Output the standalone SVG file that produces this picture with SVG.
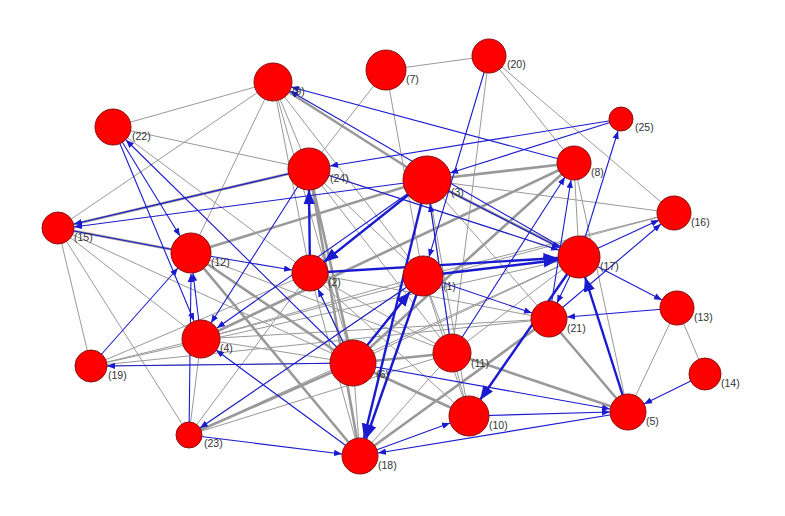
<svg xmlns="http://www.w3.org/2000/svg" width="785" height="516" viewBox="0 0 785 516">
<style>
.g{stroke:#999;stroke-width:1;fill:none}
.t{stroke:#999;stroke-width:2.6;fill:none}
.b{stroke:#1a1ad0;stroke-width:1.1;fill:none;marker-end:url(#a)}
.B{stroke:#1a1ad0;stroke-width:2.4;fill:none;marker-end:url(#A)}
.n circle{fill:#ff0000;stroke:#8a1010;stroke-width:1}
.n text{font-family:"Liberation Sans",Arial,sans-serif;font-size:10.5px;fill:#333}
</style>
<defs>
<marker id="a" viewBox="0 0 10 10" refX="10" refY="5" markerWidth="8" markerHeight="8" markerUnits="userSpaceOnUse" orient="auto"><path d="M0,1L10,5L0,9z" fill="#1a1ad0"/></marker>
<marker id="A" viewBox="0 0 10 10" refX="10" refY="5" markerWidth="6" markerHeight="6" orient="auto"><path d="M0,1L10,5L0,9z" fill="#1a1ad0"/></marker>
</defs>
<rect width="785" height="516" fill="#fff"/>
<g id="connectors">
<path class="g" d="M273,82L113,127M273,82L58,228M273,82L191,253M273,82L309,169M273,82L310,273M273,82L353,363M273,82L423,276M386,70L489,56M386,70L423,276M386,70L309,169M489,56L574,163M489,56L674,213M489,56L452,353M113,127L309,169M113,127L310,273M58,228L201,339M58,228L91,366M58,228L353,363M58,228L189,435M427,180L674,213M427,180L452,353M427,180L469,416M574,163L579,257M574,163L628,412M574,163L201,339M674,213L201,339M674,213L423,276M91,366L201,339M91,366L310,273M91,366L353,363M91,366L549,319M91,366L579,257M201,339L353,363M201,339L549,319M201,339L423,276M201,339L189,435M189,435L579,257M189,435L310,273M353,363L360,456M353,363L579,257M310,273L360,456M310,273L469,416M310,273L452,353M310,273L353,363M423,276L452,353M423,276L469,416M452,353L579,257M452,353L469,416M579,257L628,412M677,308L628,412M677,308L705,374M360,456L452,353M360,456L549,319M469,416L579,257M310,273L549,319M309,169L452,353M309,169L423,276M309,169L579,257M191,253L452,353M427,180L549,319M189,435L423,276M189,435L452,353"/>
<path class="t" d="M273,82L427,180M58,228L309,169M58,228L191,253M191,253L427,180M191,253L353,363M191,253L360,456M309,169L353,363M309,169L360,456M427,180L574,163M427,180L579,257M574,163L353,363M189,435L353,363M353,363L452,353M353,363L469,416M549,319L628,412M452,353L628,412M201,339L574,163M360,456L549,319"/>
<path class="g" style="stroke:#1a1ad0" d="M58,228L191,253"/>
<path class="b" d="M621,119L330,166"/>
<path class="b" d="M621,119L450,173"/>
<path class="b" d="M574,163L291,87"/>
<path class="b" d="M113,127L180,236"/>
<path class="b" d="M353,363L126,140"/>
<path class="b" d="M91,366L178,268"/>
<path class="b" d="M113,127L194,321"/>
<path class="b" d="M201,339L193,273"/>
<path class="b" d="M189,435L191,274"/>
<path class="b" d="M309,169L74,224"/>
<path class="b" d="M427,180L74,227"/>
<path class="B" d="M310,273L309,190"/>
<path class="B" d="M427,180L324,262"/>
<path class="b" d="M191,253L292,270"/>
<path class="b" d="M579,257L290,91"/>
<path class="b" d="M427,180L217,328"/>
<path class="b" d="M309,169L211,323"/>
<path class="b" d="M353,363L318,289"/>
<path class="b" d="M360,456L216,350"/>
<path class="b" d="M353,363L107,366"/>
<path class="b" d="M423,276L200,428"/>
<path class="b" d="M189,435L342,454"/>
<path class="B" d="M427,180L364,438"/>
<path class="B" d="M423,276L366,439"/>
<path class="B" d="M353,363L410,292"/>
<path class="b" d="M452,353L430,204"/>
<path class="B" d="M423,276L558,260"/>
<path class="B" d="M310,273L558,258"/>
<path class="b" d="M427,180L560,248"/>
<path class="b" d="M309,169L559,250"/>
<path class="b" d="M452,353L565,177"/>
<path class="b" d="M549,319L571,180"/>
<path class="b" d="M579,257L618,131"/>
<path class="b" d="M579,257L659,220"/>
<path class="b" d="M549,319L661,224"/>
<path class="b" d="M579,257L662,300"/>
<path class="b" d="M677,308L567,317"/>
<path class="b" d="M579,257L557,303"/>
<path class="b" d="M423,276L532,313"/>
<path class="B" d="M579,257L480,400"/>
<path class="B" d="M628,412L585,277"/>
<path class="b" d="M705,374L644,404"/>
<path class="b" d="M353,363L610,409"/>
<path class="b" d="M469,416L610,412"/>
<path class="b" d="M360,456L450,423"/>
<path class="b" d="M628,412L378,453"/>
<path class="b" d="M489,56L429,257"/>
</g>
<g class="n">
<g id="n1"><circle cx="423" cy="276" r="20"/><text x="443" y="290">(1)</text></g>
<g id="n2"><circle cx="310" cy="273" r="18"/><text x="328" y="286">(2)</text></g>
<g id="n3"><circle cx="427" cy="180" r="24"/><text x="451" y="196">(3)</text></g>
<g id="n4"><circle cx="201" cy="339" r="19"/><text x="220" y="352">(4)</text></g>
<g id="n5"><circle cx="628" cy="412" r="18"/><text x="646" y="425">(5)</text></g>
<g id="n6"><circle cx="353" cy="363" r="23"/><text x="376" y="378">(6)</text></g>
<g id="n7"><circle cx="386" cy="70" r="20"/><text x="406" y="83">(7)</text></g>
<g id="n8"><circle cx="574" cy="163" r="17"/><text x="591" y="176">(8)</text></g>
<g id="n9"><circle cx="273" cy="82" r="19"/><text x="292" y="95">(9)</text></g>
<g id="n10"><circle cx="469" cy="416" r="20"/><text x="489" y="429">(10)</text></g>
<g id="n11"><circle cx="452" cy="353" r="19"/><text x="471" y="367">(11)</text></g>
<g id="n12"><circle cx="191" cy="253" r="20"/><text x="211" y="266">(12)</text></g>
<g id="n13"><circle cx="677" cy="308" r="17"/><text x="694" y="321">(13)</text></g>
<g id="n14"><circle cx="705" cy="374" r="16"/><text x="721" y="387">(14)</text></g>
<g id="n15"><circle cx="58" cy="228" r="16"/><text x="74" y="241">(15)</text></g>
<g id="n16"><circle cx="674" cy="213" r="17"/><text x="691" y="226">(16)</text></g>
<g id="n17"><circle cx="579" cy="257" r="21"/><text x="600" y="270">(17)</text></g>
<g id="n18"><circle cx="360" cy="456" r="18"/><text x="378" y="469">(18)</text></g>
<g id="n19"><circle cx="91" cy="366" r="16"/><text x="108" y="379">(19)</text></g>
<g id="n20"><circle cx="489" cy="56" r="17"/><text x="507" y="68">(20)</text></g>
<g id="n21"><circle cx="549" cy="319" r="18"/><text x="567" y="332">(21)</text></g>
<g id="n22"><circle cx="113" cy="127" r="18"/><text x="132" y="140">(22)</text></g>
<g id="n23"><circle cx="189" cy="435" r="13"/><text x="204" y="447">(23)</text></g>
<g id="n24"><circle cx="309" cy="169" r="21"/><text x="330" y="182">(24)</text></g>
<g id="n25"><circle cx="621" cy="119" r="12"/><text x="635" y="131">(25)</text></g>
</g>
</svg>
